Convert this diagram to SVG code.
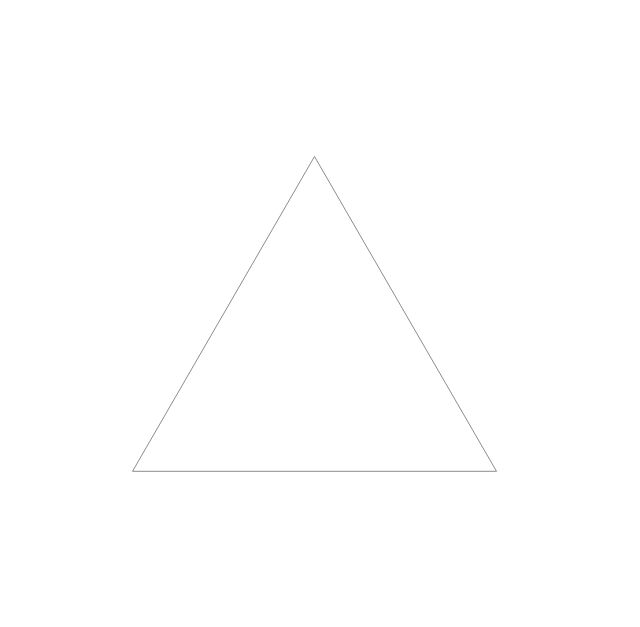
<svg xmlns="http://www.w3.org/2000/svg" width="640" height="627" viewBox="0 0 640 627">
<style>.shape{fill:#ffffff;stroke:#6e6e6e;stroke-width:0.8;}</style>
<rect width="640" height="627" fill="#ffffff"/>
<g id="triangle"><polygon class="shape" points="314.5,156.5 132.5,471.3 496.5,471.3"/></g>
</svg>
